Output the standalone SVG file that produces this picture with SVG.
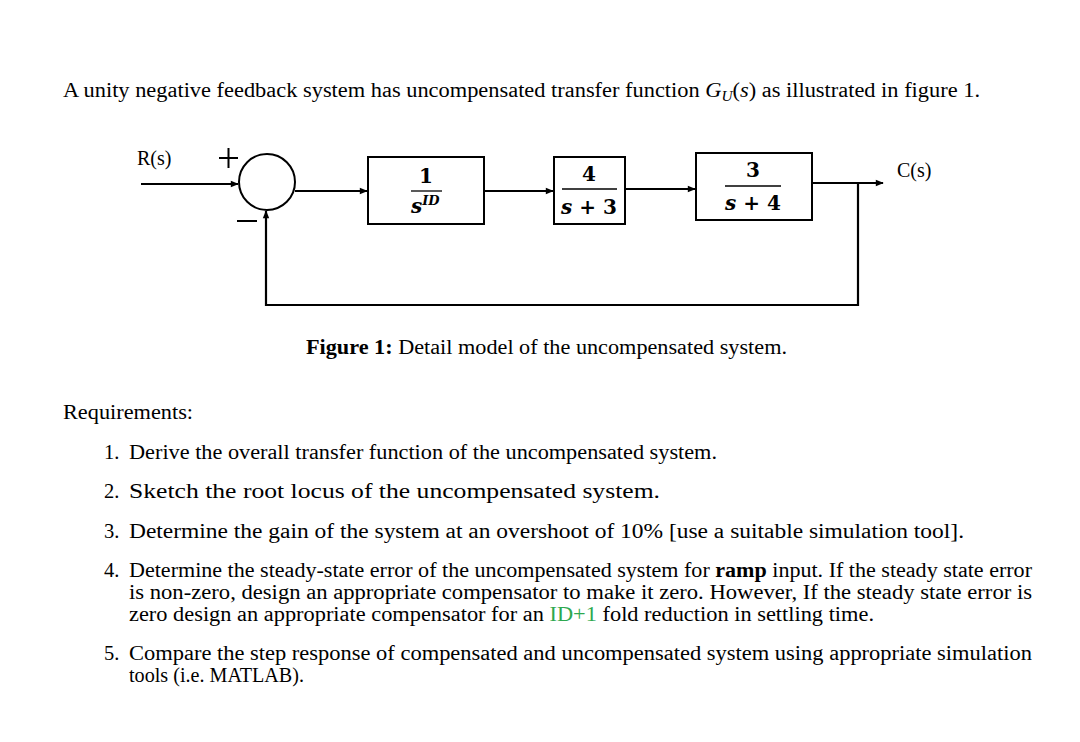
<svg xmlns="http://www.w3.org/2000/svg" width="1080" height="742" viewBox="0 0 1080 742">
<defs><marker id="ar" viewBox="0 0 10 10" refX="9" refY="5" markerWidth="9" markerHeight="8" orient="auto" markerUnits="userSpaceOnUse"><path d="M0,1 L10,5 L0,9 z" fill="#000"/></marker></defs>
<style>
text{font-family:"Liberation Serif",serif;font-size:20px;fill:#000}
.t{font-size:20.5px}
.m{font-family:"DejaVu Serif","Liberation Serif",serif;font-weight:bold;font-size:20px}
.b{fill:#fff;stroke:#000;stroke-width:2}
.c{fill:none;stroke:#000;stroke-width:2.2}
</style>
<rect width="1080" height="742" fill="#fff"/>
<text class="t" x="63" y="97" textLength="917" lengthAdjust="spacingAndGlyphs">A unity negative feedback system has uncompensated transfer function <tspan font-style="italic">G</tspan><tspan font-style="italic" font-size="14" dy="4">U</tspan><tspan dy="-4">(</tspan><tspan font-style="italic">s</tspan>) as illustrated in figure 1.</text>
<g id="connectors">
<path class="c" d="M141,184 H238" marker-end="url(#ar)"/>
<path class="c" d="M295,191 H367" marker-end="url(#ar)"/>
<path class="c" d="M484,191 H553" marker-end="url(#ar)"/>
<path class="c" d="M625,189 H695" marker-end="url(#ar)"/>
<path class="c" d="M812,183 H883" marker-end="url(#ar)"/>
<path class="c" d="M858,183 V305 H266 V211" marker-end="url(#ar)"/>
</g>
<g id="sum"><circle cx="267" cy="182" r="28" fill="#fff" stroke="#000" stroke-width="2"/>
<path d="M219,158 H238 M228.5,148 V168 M237,221 H257" stroke="#000" stroke-width="2"/></g>
<text x="137" y="165">R(s)</text>
<text x="897" y="177">C(s)</text>
<g id="b1"><rect class="b" x="368" y="157" width="116" height="67"/><text class="m" x="426" y="183" text-anchor="middle">1</text><path d="M411,191 H442" stroke="#000" stroke-width="1.3"/><text class="m" x="411" y="213" font-style="italic">s<tspan font-size="13" dy="-8">ID</tspan></text></g>
<g id="b2"><rect class="b" x="554" y="157" width="71" height="67"/><text class="m" x="589" y="181" text-anchor="middle">4</text><path d="M562,189 H617" stroke="#000" stroke-width="1.3"/><text class="m" x="589" y="214" text-anchor="middle"><tspan font-style="italic">s</tspan> + 3</text></g>
<g id="b3"><rect class="b" x="696" y="153" width="116" height="67"/><text class="m" x="753" y="177" text-anchor="middle">3</text><path d="M725,186 H781" stroke="#000" stroke-width="1.3"/><text class="m" x="753" y="210" text-anchor="middle"><tspan font-style="italic">s</tspan> + 4</text></g>
<text class="t" x="306" y="354" textLength="481" lengthAdjust="spacingAndGlyphs"><tspan font-weight="bold">Figure 1:</tspan> Detail model of the uncompensated system.</text>
<text class="t" x="63" y="419" textLength="130" lengthAdjust="spacingAndGlyphs">Requirements:</text>
<text class="t" x="104" y="459">1.</text><text class="t" x="129" y="459" textLength="588" lengthAdjust="spacingAndGlyphs">Derive the overall transfer function of the uncompensated system.</text>
<text class="t" x="104" y="498">2.</text><text class="t" x="129" y="498" textLength="531" lengthAdjust="spacingAndGlyphs">Sketch the root locus of the uncompensated system.</text>
<text class="t" x="104" y="538">3.</text><text class="t" x="129" y="538" textLength="835" lengthAdjust="spacingAndGlyphs">Determine the gain of the system at an overshoot of 10% [use a suitable simulation tool].</text>
<text class="t" x="104" y="577">4.</text><text class="t" x="129" y="577" textLength="903" lengthAdjust="spacingAndGlyphs">Determine the steady-state error of the uncompensated system for <tspan font-weight="bold">ramp</tspan> input. If the steady state error</text>
<text class="t" x="129" y="599" textLength="903" lengthAdjust="spacingAndGlyphs">is non-zero, design an appropriate compensator to make it zero. However, If the steady state error is</text>
<text class="t" x="129" y="621" textLength="745" lengthAdjust="spacingAndGlyphs">zero design an appropriate compensator for an <tspan fill="#2ea84f">ID+1</tspan> fold reduction in settling time.</text>
<text class="t" x="104" y="660">5.</text><text class="t" x="129" y="660" textLength="903" lengthAdjust="spacingAndGlyphs">Compare the step response of compensated and uncompensated system using appropriate simulation</text>
<text class="t" x="129" y="682" textLength="175" lengthAdjust="spacingAndGlyphs">tools (i.e. MATLAB).</text>
</svg>
